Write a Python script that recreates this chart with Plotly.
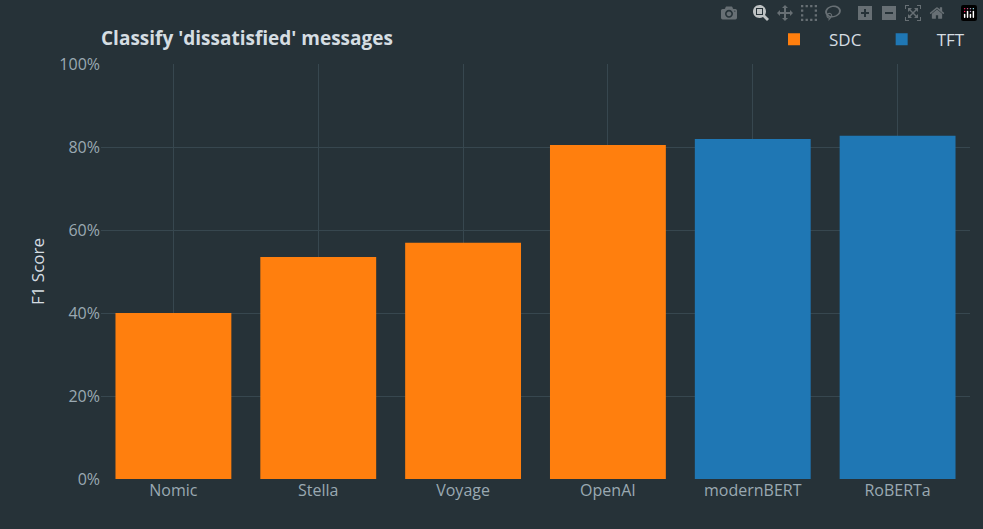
import plotly.graph_objects as go

cats_sdc = ["Nomic", "Stella", "Voyage", "OpenAI"]
vals_sdc = [0.40, 0.535, 0.569, 0.805]
cats_tft = ["modernBERT", "RoBERTa"]
vals_tft = [0.819, 0.827]
all_cats = cats_sdc + cats_tft

fig = go.Figure()
fig.add_trace(go.Bar(x=cats_sdc, y=vals_sdc, name="SDC", marker=dict(color="#ff7f0e", line_width=0)))
fig.add_trace(go.Bar(x=cats_tft, y=vals_tft, name="TFT", marker=dict(color="#1f77b4", line_width=0)))

fig.update_layout(
    width=983, height=529,
    barmode="relative", bargap=0.2,
    paper_bgcolor="#263238", plot_bgcolor="#263238",
    font=dict(family="Open Sans", color="#9aa9b2", size=16),
    margin=dict(l=101, r=13, t=64, b=50),
    title=dict(text="<b>Classify 'dissatisfied' messages</b>", x=101/983, xanchor="left",
               y=1-38/529, yanchor="middle", font=dict(size=19, color="#d5dde2")),
    legend=dict(orientation="h", x=1, xanchor="right", y=1.015, yanchor="bottom",
                font=dict(color="#d5dde2", size=17), bgcolor="rgba(0,0,0,0)",
                itemwidth=60, traceorder="normal"),
    xaxis=dict(categoryorder="array", categoryarray=all_cats, showgrid=True,
               gridcolor="#37474f", tickfont=dict(size=16), zeroline=False),
    yaxis=dict(range=[0, 1], tickformat=".0%", dtick=0.2, gridcolor="#37474f",
               zeroline=False, tickfont=dict(size=16),
               title=dict(text="F1 Score", font=dict(color="#d5dde2", size=17), standoff=10)),
)
fig.write_html("out.html")
with open("out.html", encoding="utf-8") as f:
    html = f.read()
html = html.replace("<head>", "<head><style>html,body{margin:0;padding:0;background:#263238;}</style>", 1)
with open("out.html", "w", encoding="utf-8") as f:
    f.write(html)
